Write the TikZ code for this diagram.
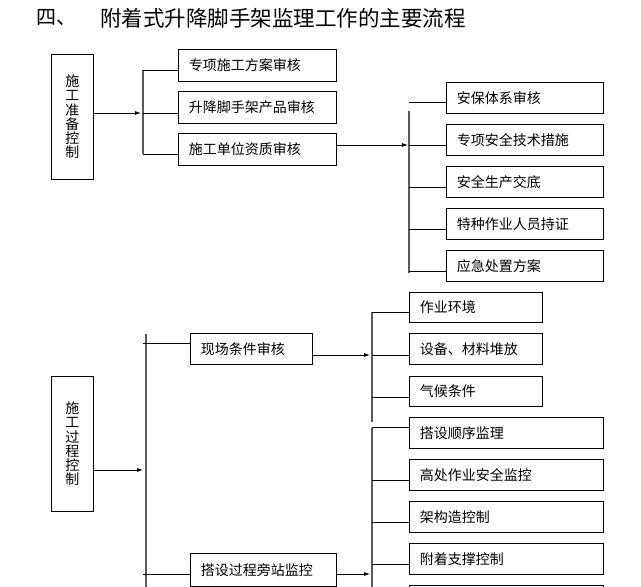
\documentclass[tikz,border=0pt]{standalone}
\usepackage{fontspec}
\newfontfamily\cjk{Noto Sans CJK SC}
\usetikzlibrary{arrows.meta}
\tikzset{
  bx/.style={draw, line width=0.9pt, anchor=north west, inner xsep=10.5pt, inner ysep=0pt,
    align=left, font=\cjk\fontsize{14}{14}\selectfont},
  vbx/.style={draw, line width=0.9pt, anchor=north west, inner sep=0pt, align=center,
    font=\cjk\fontsize{14}{14.2}\selectfont},
  ln/.style={line width=0.8pt},
  bus/.style={line width=1.2pt, black!65},
  arr/.style={line width=0.8pt, -{Latex[length=6pt,width=4pt]}},
}
\begin{document}
\begin{tikzpicture}[x=1pt,y=-1pt]
\useasboundingbox (0,0) rectangle (641,587);
\clip (0,0) rectangle (641,587);
% title
\node[anchor=west, inner sep=0pt, font=\cjk\fontsize{20}{20}\selectfont] (t1) at (36,18) {四、};
\node[anchor=west, inner sep=0pt, font=\cjk\fontsize{21.5}{21.5}\selectfont] (t2) at (100,18) {附着式升降脚手架监理工作的主要流程};
% preparation
\node[vbx, minimum width=42pt, minimum height=125pt] (A) at (51,54) {施\\工\\准\\备\\控\\制};
\node[bx, text width=137pt, minimum height=32pt] (B1) at (178,49) {专项施工方案审核};
\node[bx, text width=137pt, minimum height=32pt] (B2) at (178,91) {升降脚手架产品审核};
\node[bx, text width=137pt, minimum height=32pt] (B3) at (178,133) {施工单位资质审核};
\coordinate (b1t) at (143,70);
\coordinate (b1b) at (143,154);
\draw[bus] (b1t) -- (b1b);
\draw[arr] (A.east |- 0,113) -- (141,113);
\draw[ln] (b1t) -- (B1.west |- b1t);
\draw[ln] (143,113) -- (B2.west |- 0,113);
\draw[ln] (b1b) -- (B3.west |- b1b);
% safety
\node[bx, text width=136pt, minimum height=31pt] (C1) at (446,82) {安保体系审核};
\node[bx, text width=136pt, minimum height=31pt] (C2) at (446,124) {专项安全技术措施};
\node[bx, text width=136pt, minimum height=31pt] (C3) at (446,166) {安全生产交底};
\node[bx, text width=136pt, minimum height=31pt] (C4) at (446,208) {特种作业人员持证};
\node[bx, text width=136pt, minimum height=31pt] (C5) at (446,250) {应急处置方案};
\coordinate (b2t) at (409,111);
\coordinate (b2b) at (409,273);
\draw[bus] (b2t) -- (b2b);
\draw[arr] (B3.east |- 0,145) -- (408,145);
\draw[ln] (409,102) -- (C1.west |- 0,102);
\draw[ln] (409,145) -- (C2.west |- 0,145);
\draw[ln] (409,187) -- (C3.west |- 0,187);
\draw[ln] (409,229) -- (C4.west |- 0,229);
\draw[ln] (409,271) -- (C5.west |- 0,271);
% process
\node[vbx, minimum width=42pt, minimum height=135pt] (D) at (51,376) {施\\工\\过\\程\\控\\制};
\node[bx, text width=101pt, minimum height=31pt] (E1) at (190,333) {现场条件审核};
\node[bx, text width=125pt, minimum height=33pt] (E2) at (190,553) {搭设过程旁站监控};
\coordinate (b3t) at (146,334);
\coordinate (b3b) at (146,600);
\draw[bus] (b3t) -- (b3b);
\draw[arr] (D.east |- 0,470) -- (143,470);
\draw[ln] (143,343) -- (E1.west |- 0,343);
\draw[ln] (143,574) -- (E2.west |- 0,574);
% site conditions
\node[bx, text width=112pt, minimum height=30pt] (F1) at (409,292) {作业环境};
\node[bx, text width=112pt, minimum height=31pt] (F2) at (409,333) {设备、材料堆放};
\node[bx, text width=112pt, minimum height=30pt] (F3) at (409,376) {气候条件};
\coordinate (b4t) at (372,312);
\coordinate (b4b) at (372,422);
\draw[bus] (b4t) -- (b4b);
\draw[arr] (E1.east |- 0,355) -- (370,355);
\draw[ln] (b4t) -- (F1.west |- b4t);
\draw[ln] (372,355) -- (F2.west |- 0,355);
\draw[ln] (372,397) -- (F3.west |- 0,397);
% erection supervision
\node[bx, text width=173pt, minimum height=31pt] (G1) at (409,417) {搭设顺序监理};
\node[bx, text width=173pt, minimum height=31pt] (G2) at (409,459) {高处作业安全监控};
\node[bx, text width=173pt, minimum height=31pt] (G3) at (409,501) {架构造控制};
\node[bx, text width=173pt, minimum height=31pt] (G4) at (409,543) {附着支撑控制};
\node[bx, text width=173pt, minimum height=31pt] (G5) at (409,585) {};
\coordinate (b5t) at (372,428);
\coordinate (b5b) at (372,600);
\draw[bus] (b5t) -- (b5b);
\draw[arr] (E2.east |- 0,574) -- (370,574);
\draw[ln] (372,427) -- (G1.west |- 0,427);
\draw[ln] (372,480) -- (G2.west |- 0,480);
\draw[ln] (372,522) -- (G3.west |- 0,522);
\draw[ln] (372,564) -- (G4.west |- 0,564);
\end{tikzpicture}
\end{document}
